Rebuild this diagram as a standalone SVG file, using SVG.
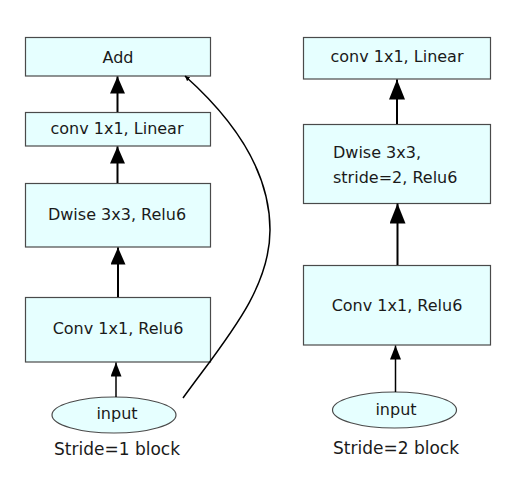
<svg xmlns="http://www.w3.org/2000/svg" width="517" height="480" viewBox="0 0 517 480">
<style>
.box{fill:#e6ffff;stroke:#4a4a4a;stroke-width:1.2}
.t{font-family:"DejaVu Sans",sans-serif;font-size:16px;fill:#1a1a1a}
.c{text-anchor:middle}
.cap{font-family:"DejaVu Sans",sans-serif;font-size:17px;fill:#1a1a1a;text-anchor:middle}
.ln{stroke:#000;fill:none}
</style>
<defs>
<marker id="ah" markerUnits="userSpaceOnUse" markerWidth="18" markerHeight="16" refX="17" refY="7.5" orient="auto">
<path d="M0,0 L17,7.5 L0,15 z" fill="#000"/>
</marker>
<marker id="ahL" markerUnits="userSpaceOnUse" markerWidth="21" markerHeight="18" refX="20" refY="8" orient="auto">
<path d="M0,0 L20,8 L0,16 z" fill="#000"/>
</marker>
<marker id="as" markerUnits="userSpaceOnUse" markerWidth="15" markerHeight="12" refX="14" refY="5.5" orient="auto">
<path d="M0,0 L14,5.5 L0,11 z" fill="#000"/>
</marker>
<marker id="at" markerUnits="userSpaceOnUse" markerWidth="6" markerHeight="6" refX="5" refY="2.5" orient="auto">
<path d="M0,0 L5,2.5 L0,5 z" fill="#000"/>
</marker>
</defs>
<g id="l-add"><rect class="box" x="25.5" y="37.5" width="185" height="38.5"/><text class="t c" x="118" y="63">Add</text></g>
<g id="l-linear"><rect class="box" x="25.5" y="112.5" width="185" height="33.5"/><text class="t c" x="117" y="133.5">conv 1x1, Linear</text></g>
<g id="l-dwise"><rect class="box" x="25.5" y="183.5" width="185" height="63.5"/><text class="t c" x="117" y="220">Dwise 3x3, Relu6</text></g>
<g id="l-conv"><rect class="box" x="25.5" y="297.5" width="185" height="64.5"/><text class="t c" x="118" y="334">Conv 1x1, Relu6</text></g>
<g id="l-input"><ellipse class="box" cx="114" cy="415" rx="62" ry="18"/><text class="t c" x="117" y="419">input</text></g>
<g id="l-caption"><text class="cap" x="117" y="455">Stride=1 block</text></g>
<g id="r-linear"><rect class="box" x="303.5" y="37.5" width="187" height="41.5"/><text class="t c" x="397" y="62">conv 1x1, Linear</text></g>
<g id="r-dwise"><rect class="box" x="303.5" y="124.5" width="187" height="79"/><text class="t" x="333" y="158">Dwise 3x3,</text><text class="t" x="333" y="183">stride=2, Relu6</text></g>
<g id="r-conv"><rect class="box" x="303.5" y="265.5" width="187" height="79.5"/><text class="t c" x="397" y="311">Conv 1x1, Relu6</text></g>
<g id="r-input"><ellipse class="box" cx="394.5" cy="410" rx="62" ry="18"/><text class="t c" x="396" y="415">input</text></g>
<g id="r-caption"><text class="cap" x="396" y="454">Stride=2 block</text></g>
<g id="connectors">
<line class="ln" stroke-width="2" x1="117.5" y1="112" x2="117.5" y2="76.5" marker-end="url(#ah)"/>
<line class="ln" stroke-width="2" x1="117.5" y1="183" x2="117.5" y2="146.5" marker-end="url(#ah)"/>
<line class="ln" stroke-width="2" x1="118" y1="297" x2="118" y2="247.5" marker-end="url(#ah)"/>
<line class="ln" stroke-width="1.5" x1="116" y1="397" x2="116" y2="362.5" marker-end="url(#as)"/>
<path class="ln" stroke-width="1.5" d="M183,398 C225,340 270,290 270,230 C270,170 232,118 185,76" marker-end="url(#at)"/>
<line class="ln" stroke-width="2" x1="397" y1="124" x2="397" y2="79.5" marker-end="url(#ahL)"/>
<line class="ln" stroke-width="2" x1="397.5" y1="265" x2="397.5" y2="203.5" marker-end="url(#ahL)"/>
<line class="ln" stroke-width="1.5" x1="395.5" y1="392" x2="395.5" y2="345.5" marker-end="url(#as)"/>
</g>
</svg>
